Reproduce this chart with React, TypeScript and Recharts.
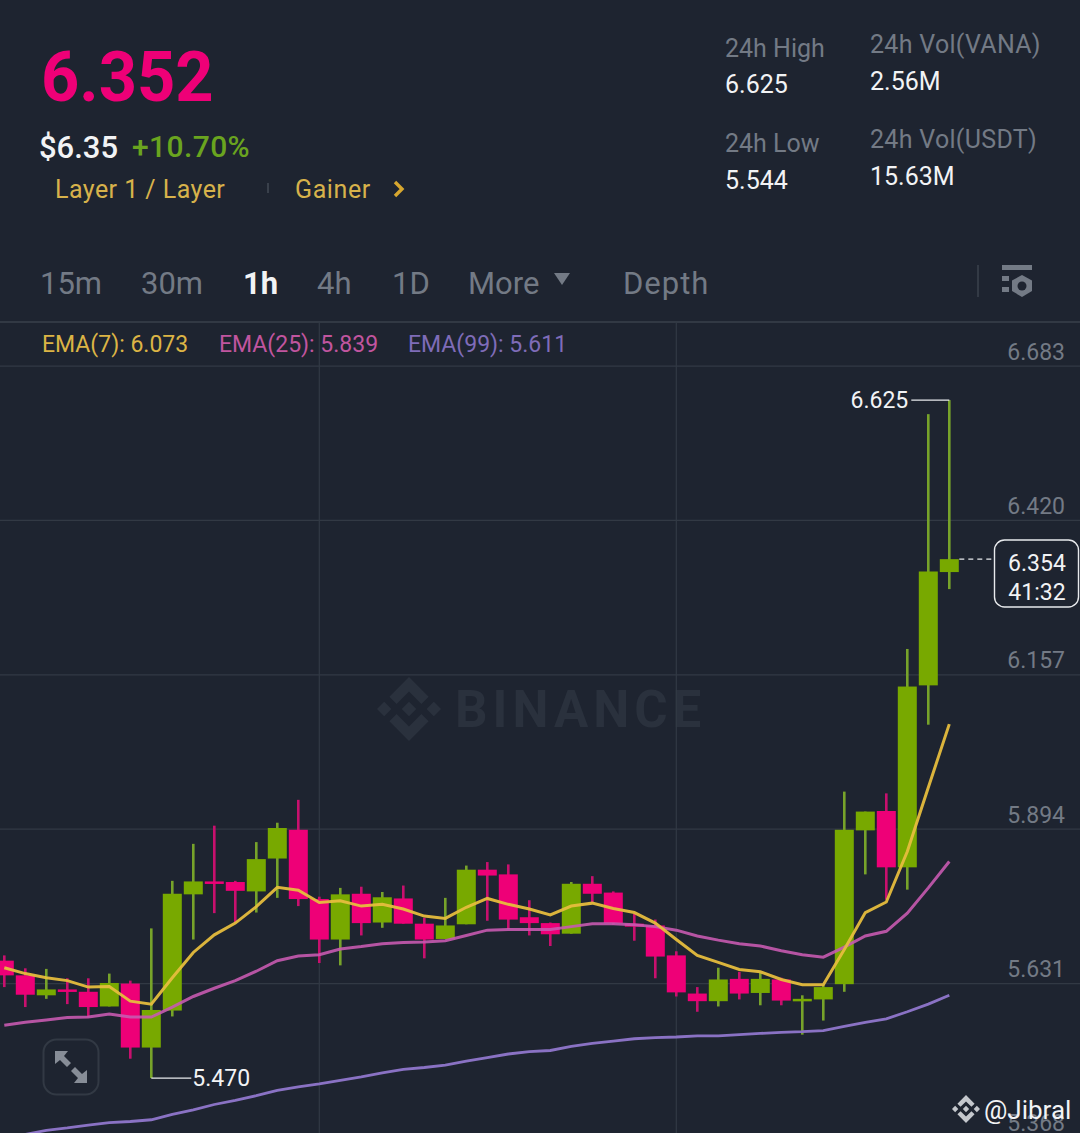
import { Bar, CartesianGrid, ComposedChart, Line, ReferenceDot, XAxis, YAxis } from "recharts";

const opens = [5.67, 5.645, 5.611, 5.621, 5.617, 5.592, 5.631, 5.522, 5.585, 5.783, 5.805, 5.804, 5.788, 5.844, 5.893, 5.775, 5.706, 5.784, 5.735, 5.776, 5.733, 5.707, 5.732, 5.825, 5.817, 5.744, 5.734, 5.716, 5.801, 5.786, 5.733, 5.73, 5.679, 5.614, 5.601, 5.639, 5.615, 5.638, 5.602, 5.604, 5.63, 5.892, 5.925, 5.829, 6.139, 6.332];
const highs = [5.679, 5.657, 5.656, 5.64, 5.64, 5.648, 5.636, 5.725, 5.806, 5.869, 5.9, 5.806, 5.872, 5.905, 5.944, 5.779, 5.794, 5.796, 5.787, 5.798, 5.743, 5.777, 5.832, 5.838, 5.834, 5.773, 5.735, 5.804, 5.814, 5.788, 5.75, 5.74, 5.686, 5.625, 5.658, 5.651, 5.649, 5.641, 5.611, 5.628, 5.958, 5.924, 5.955, 6.201, 6.601, 6.625];
const lows = [5.625, 5.591, 5.605, 5.596, 5.574, 5.592, 5.503, 5.47, 5.575, 5.706, 5.751, 5.735, 5.752, 5.777, 5.763, 5.666, 5.662, 5.713, 5.726, 5.733, 5.674, 5.707, 5.732, 5.738, 5.724, 5.713, 5.695, 5.716, 5.769, 5.731, 5.704, 5.64, 5.609, 5.583, 5.592, 5.604, 5.594, 5.594, 5.544, 5.568, 5.617, 5.817, 5.774, 5.791, 6.072, 6.303];
const closes = [5.645, 5.612, 5.621, 5.617, 5.591, 5.632, 5.522, 5.586, 5.784, 5.805, 5.801, 5.789, 5.843, 5.896, 5.775, 5.706, 5.783, 5.734, 5.778, 5.733, 5.706, 5.73, 5.825, 5.815, 5.74, 5.734, 5.715, 5.801, 5.784, 5.734, 5.728, 5.677, 5.616, 5.601, 5.638, 5.614, 5.639, 5.602, 5.605, 5.625, 5.893, 5.924, 5.829, 6.137, 6.333, 6.354];
const ema7 = [5.658, 5.648, 5.641, 5.636, 5.625, 5.626, 5.601, 5.596, 5.641, 5.684, 5.714, 5.734, 5.762, 5.795, 5.79, 5.769, 5.772, 5.763, 5.766, 5.758, 5.746, 5.742, 5.761, 5.776, 5.766, 5.758, 5.748, 5.763, 5.768, 5.759, 5.752, 5.734, 5.706, 5.679, 5.667, 5.655, 5.651, 5.638, 5.629, 5.629, 5.689, 5.752, 5.77, 5.856, 5.965, 6.073];
const ema25 = [5.56, 5.565, 5.569, 5.573, 5.574, 5.579, 5.574, 5.574, 5.591, 5.609, 5.623, 5.636, 5.652, 5.67, 5.678, 5.68, 5.69, 5.694, 5.699, 5.701, 5.702, 5.704, 5.713, 5.722, 5.723, 5.723, 5.723, 5.728, 5.733, 5.733, 5.731, 5.728, 5.722, 5.712, 5.705, 5.699, 5.695, 5.687, 5.68, 5.676, 5.693, 5.712, 5.72, 5.751, 5.794, 5.839];
const ema99 = [5.369, 5.374, 5.381, 5.385, 5.39, 5.394, 5.396, 5.399, 5.408, 5.416, 5.425, 5.432, 5.44, 5.449, 5.455, 5.46, 5.466, 5.472, 5.479, 5.485, 5.488, 5.492, 5.499, 5.505, 5.511, 5.515, 5.517, 5.524, 5.529, 5.533, 5.537, 5.539, 5.54, 5.542, 5.542, 5.544, 5.546, 5.548, 5.549, 5.551, 5.558, 5.565, 5.571, 5.583, 5.596, 5.611];
const priceTicks = [6.683, 6.42, 6.157, 5.894, 5.631, 5.368];
const timeTicks = [15, 32];
const tabs = ["15m", "30m", "1h", "4h", "1D", "More", "Depth"];
const tabLefts = [40, 141, 243, 317, 392, 468, 623];

const rows = opens.map((open, i) => ({
  i,
  open,
  high: highs[i],
  low: lows[i],
  close: closes[i],
  ema7: ema7[i],
  ema25: ema25[i],
  ema99: ema99[i],
}));

const UP = "#78a900";
const UP_WICK = "#77a32a";
const DOWN = "#ee0077";
const DOWN_WICK = "#c8106e";
const GRID = "#323944";
const MUTED = "#737a85";
const FONT = "Roboto, sans-serif";
const CHART_TOP = 322;

function Candle(props: any) {
  const { x, y, width, height, payload } = props;
  const top = Math.min(y, y + height);
  const h = Math.abs(height);
  const perUnit = h / (payload.high - payload.low);
  const bodyTop = top + (payload.high - Math.max(payload.open, payload.close)) * perUnit;
  const bodyH = Math.max(2.5, Math.abs(payload.open - payload.close) * perUnit);
  const up = payload.close >= payload.open;
  return (
    <g>
      <rect x={x + width / 2 - 1.3} y={top} width={2.6} height={h} fill={up ? UP_WICK : DOWN_WICK} />
      <rect x={x} y={bodyTop} width={width} height={bodyH} fill={up ? UP : DOWN} />
    </g>
  );
}

function PriceTick({ y, payload }: any) {
  return (
    <text x={1065} y={y - 14} textAnchor="end" dominantBaseline="central" fill={MUTED} fontSize={23} fontFamily={FONT}>
      {payload.value.toFixed(3)}
    </text>
  );
}

// high / low markers and the live price box hang off the candle they belong to
function HighMark({ cx, cy }: any) {
  return (
    <g fontFamily={FONT}>
      <line x1={cx} x2={cx - 38} y1={cy} y2={cy} stroke="#e8eaed" strokeWidth={1.3} />
      <text x={cx - 41} y={cy} textAnchor="end" dominantBaseline="central" fill="#f2f3f5" fontSize={23}>6.625</text>
    </g>
  );
}

function LowMark({ cx, cy }: any) {
  return (
    <g fontFamily={FONT}>
      <line x1={cx} x2={cx + 40} y1={cy} y2={cy} stroke="#e8eaed" strokeWidth={1.3} />
      <text x={cx + 41} y={cy} dominantBaseline="central" fill="#f2f3f5" fontSize={23}>5.470</text>
    </g>
  );
}

function LiveMark({ cx, cy }: any) {
  return (
    <g fontFamily={FONT}>
      <line x1={cx + 10} x2={994} y1={cy} y2={cy} stroke="#e8eaed" strokeWidth={1.3} strokeDasharray="5 4" />
      <rect x={994.5} y={540 - CHART_TOP} width={84} height={67} rx={10} fill="#1e2430" stroke="#e8eaed" strokeWidth={1.4} />
      <text x={1037} y={563 - CHART_TOP} textAnchor="middle" dominantBaseline="central" fill="#f2f3f5" fontSize={23}>6.354</text>
      <text x={1037} y={592 - CHART_TOP} textAnchor="middle" dominantBaseline="central" fill="#f2f3f5" fontSize={23}>41:32</text>
    </g>
  );
}

function Label({ x, y, size, color, weight, spacing, squeeze, children }: any) {
  return (
    <div
      style={{
        position: "absolute",
        left: x,
        top: y,
        transform: `translateY(-50%) scaleX(${squeeze ?? 1})`,
        transformOrigin: "left center",
        fontSize: size,
        color,
        fontWeight: weight ?? 400,
        letterSpacing: spacing ?? 0,
        lineHeight: 1,
        whiteSpace: "nowrap",
        fontFamily: FONT,
      }}
    >
      {children}
    </div>
  );
}

function BinanceMark({ x, y, size, color }: any) {
  return (
    <svg width={size} height={size} viewBox="0 0 32 32" style={{ position: "absolute", left: x, top: y }}>
      <path
        fill={color}
        d="M9.8 13.5 16 7.3l6.2 6.2 3.6-3.6L16 0 6.2 9.9zM0 16l3.6-3.6L7.2 16l-3.6 3.6zM9.8 18.5 16 24.7l6.2-6.2 3.6 3.6L16 32l-9.8-9.9zM24.8 16l3.6-3.6L32 16l-3.6 3.6zM19.6 16 16 12.4 12.4 16 16 19.6z"
      />
    </svg>
  );
}

export default function App() {
  return (
    <div style={{ position: "absolute", left: 0, top: 0, width: 1080, height: 1133, overflow: "hidden", background: "#1e2430" }}>
      <Label x={41} y={76} size={71} color={DOWN} weight={700} squeeze={0.94}>6.352</Label>
      <Label x={39} y={147} size={31} color="#f2f3f5" weight={500}>$6.35</Label>
      <Label x={132} y={147} size={30} color="#6aa41f" weight={500} spacing={0.4}>+10.70%</Label>
      <Label x={55} y={189} size={25} color="#d7b24b" spacing={0.45}>Layer 1 / Layer</Label>
      <div style={{ position: "absolute", left: 267, top: 183, width: 2, height: 10, background: "#39404b" }} />
      <Label x={295} y={189} size={25} color="#d7b24b" spacing={0.6}>Gainer</Label>
      <svg width={14} height={18} style={{ position: "absolute", left: 392, top: 180 }}>
        <path d="M3 2 L10 9 L3 16" fill="none" stroke="#d7a72f" strokeWidth={3.4} />
      </svg>

      <Label x={725} y={48} size={25} color={MUTED}>24h High</Label>
      <Label x={725} y={84} size={25} color="#f2f3f5">6.625</Label>
      <Label x={725} y={143} size={25} color={MUTED}>24h Low</Label>
      <Label x={725} y={180} size={25} color="#f2f3f5">5.544</Label>
      <Label x={870} y={44} size={25} color={MUTED} spacing={0.3}>24h Vol(VANA)</Label>
      <Label x={870} y={81} size={25} color="#f2f3f5">2.56M</Label>
      <Label x={870} y={139} size={25} color={MUTED} spacing={0.3}>24h Vol(USDT)</Label>
      <Label x={870} y={176} size={25} color="#f2f3f5">15.63M</Label>

      {tabs.map((tab, i) => (
        <Label
          key={tab}
          x={tabLefts[i]}
          y={283}
          size={31}
          color={tab === "1h" ? "#f2f3f5" : MUTED}
          weight={tab === "1h" ? 700 : 400}
          spacing={tab === "Depth" ? 1 : 0}
        >
          {tab}
        </Label>
      ))}
      <svg width={18} height={14} style={{ position: "absolute", left: 553, top: 272 }}>
        <path d="M1 1 H17 L9 13 Z" fill={MUTED} />
      </svg>
      <div style={{ position: "absolute", left: 977, top: 265, width: 2, height: 32, background: "#333a45" }} />
      <svg width={32} height={32} style={{ position: "absolute", left: 1001, top: 265 }}>
        <rect x={1} y={0} width={30} height={5} fill={MUTED} />
        <rect x={1} y={11} width={7} height={5} fill={MUTED} />
        <rect x={1} y={22} width={7} height={5} fill={MUTED} />
        <path d="M21 10 L31 15.5 V26 L21 32 L11 26 V15.5 Z" fill={MUTED} />
        <circle cx={21} cy={21} r={4.5} fill="#1e2430" />
      </svg>

      <div style={{ position: "absolute", left: 0, top: 321, width: 1080, height: 2, background: GRID }} />

      <BinanceMark x={377} y={677} size={64} color="#2a313d" />
      <Label x={455} y={709} size={51} color="#2a313d" weight={700} spacing={5}>BINANCE</Label>

      <div style={{ position: "absolute", left: 0, top: CHART_TOP }}>
        <ComposedChart
          width={1080}
          height={824}
          data={rows}
          margin={{ top: 0, right: 0, bottom: 0, left: 0 }}
        >
          <CartesianGrid
            stroke={GRID}
            strokeWidth={1.2}
            horizontalValues={priceTicks}
            verticalCoordinatesGenerator={({ width }: any) =>
              timeTicks.map((t) => ((t + 0.2048) / 51.4286) * width)
            }
          />
          <XAxis
            dataKey="i"
            type="number"
            domain={[-0.2048, 51.2238]}
            allowDataOverflow
            ticks={timeTicks}
            tick={false}
            axisLine={false}
            tickLine={false}
            height={1}
          />
          <YAxis
            type="number"
            orientation="right"
            mirror
            width={1}
            domain={[5.356, 6.758]}
            allowDataOverflow
            ticks={priceTicks}
            interval={0}
            tick={PriceTick}
            axisLine={false}
            tickLine={false}
          />
          <Bar
            dataKey={(d: any) => [d.low, d.high]}
            barSize={19}
            shape={Candle}
            isAnimationActive={false}
          />
          <Line dataKey="ema99" stroke="#8a72c4" strokeWidth={2.8} dot={false} type="linear" isAnimationActive={false} />
          <Line dataKey="ema25" stroke="#c65ab0" strokeOpacity={0.9} strokeWidth={3} dot={false} type="linear" isAnimationActive={false} />
          <Line dataKey="ema7" stroke="#e6bd3d" strokeOpacity={0.95} strokeWidth={3} dot={false} type="linear" isAnimationActive={false} />
          <ReferenceDot x={45} y={6.625} shape={HighMark} />
          <ReferenceDot x={7} y={5.47} shape={LowMark} />
          <ReferenceDot x={45} y={6.354} shape={LiveMark} />
        </ComposedChart>
      </div>

      <Label x={42} y={344} size={23} color="#dcb445">EMA(7): 6.073</Label>
      <Label x={219} y={344} size={23} color="#c1559f">EMA(25): 5.839</Label>
      <Label x={408} y={344} size={23} color="#7f6cb8">EMA(99): 5.611</Label>

      <svg width={58} height={58} style={{ position: "absolute", left: 42, top: 1038 }}>
        <rect x={1.5} y={1.5} width={55} height={55} rx={13} fill="none" stroke="#323944" strokeWidth={2} />
        <path d="M13 13 H26 L22 18 L29 25 L25 29 L18 22 L13 26 Z" fill="#878d97" />
        <path d="M45 45 H32 L36 40 L29 33 L33 29 L40 36 L45 32 Z" fill="#878d97" />
      </svg>

      <BinanceMark x={952} y={1095} size={28} color="#c4c7cc" />
      <Label x={984} y={1110} size={26} color="#f2f3f5">@Jibral</Label>
    </div>
  );
}
